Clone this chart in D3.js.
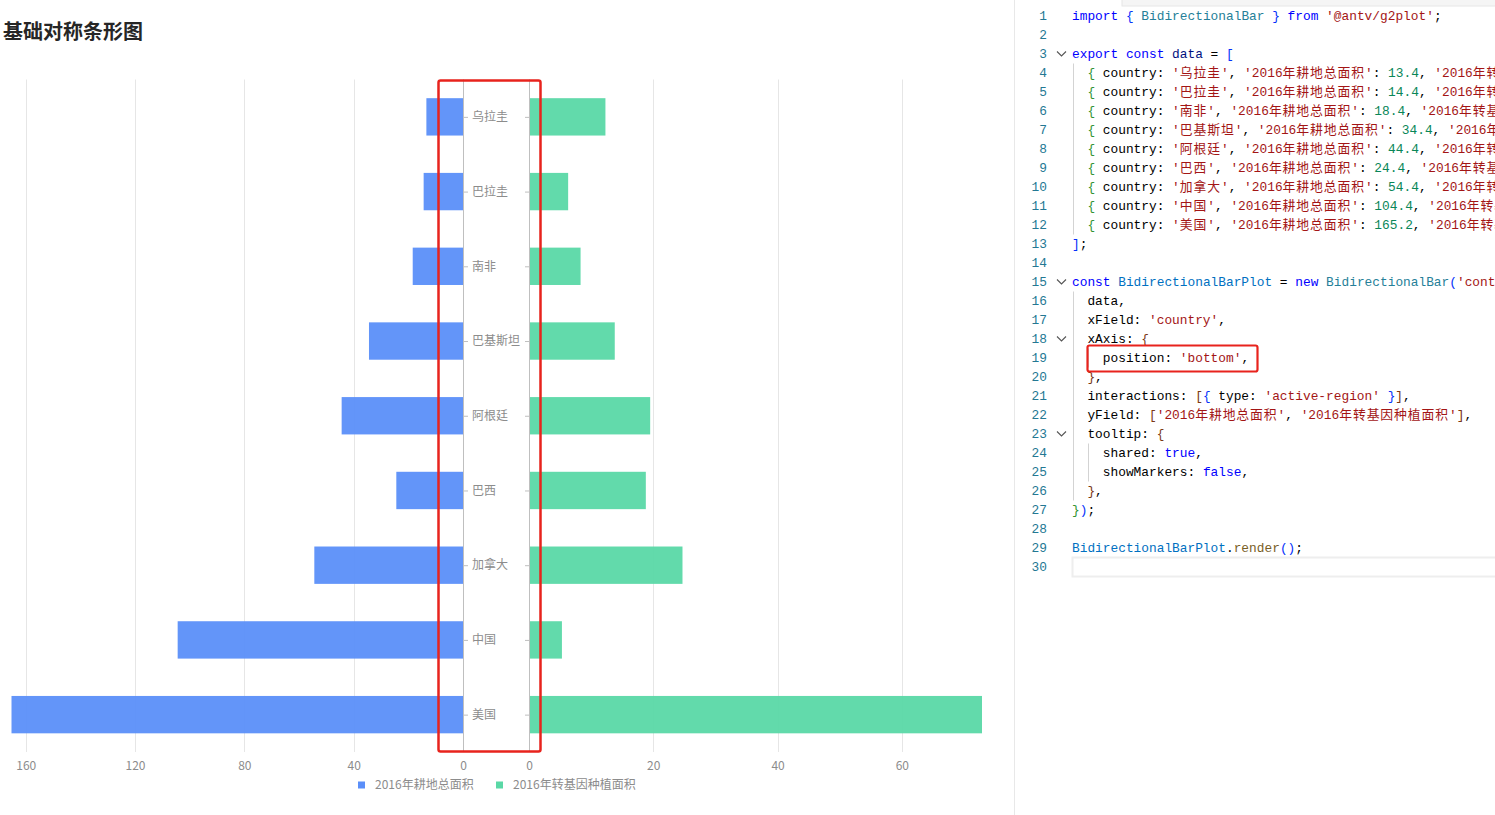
<!DOCTYPE html>
<html>
<head>
<meta charset="utf-8">
<script src="https://cdn.jsdelivr.net/npm/d3@7"></script>
<style>
  html, body { margin: 0; padding: 0; background: #fff; overflow: hidden; }
  svg { display: block; }
  .code text { font-family: "Liberation Mono", "DejaVu Sans Mono", "Noto Sans CJK SC", monospace; font-size: 12.83px; white-space: pre; }
  .code tspan.cjk { letter-spacing: 0.9px; }
</style>
</head>
<body>
<svg id="root" width="1495" height="815"></svg>
<script>
// ---------- chart data ----------
const countries = ['乌拉圭', '巴拉圭', '南非', '巴基斯坦', '阿根廷', '巴西', '加拿大', '中国', '美国'];
const totalArea = [13.4, 14.4, 18.4, 34.4, 44.4, 24.4, 54.4, 104.4, 165.2];
const gmArea = [12.3, 6.3, 8.3, 13.8, 19.5, 18.8, 24.7, 5.3, 72.9];
const seriesNames = ['2016年耕地总面积', '2016年转基因种植面积'];
const leftTicks = [0, 40, 80, 120, 160];
const rightTicks = [0, 20, 40, 60];
const chartTitle = '基础对称条形图';

// ---------- code panel text ----------
const codeLines = [
  [['k','import'],['p',' '],['b1','{'],['p',' '],['t','BidirectionalBar'],['p',' '],['b1','}'],['p',' '],['k','from'],['p',' '],['s',"'@antv/g2plot'"],['p',';']],
  [],
  [['k','export'],['p',' '],['k','const'],['p',' '],['v','data'],['p',' = '],['b1','[']],
  [['p','  '],['b2','{'],['p',' country: '],['s',"'乌拉圭'"],['p',', '],['s',"'2016年耕地总面积'"],['p',': '],['n','13.4'],['p',', '],['s',"'2016年转基因种植面积'"],['p',': '],['n','12.3'],['p',' '],['b2','}'],['p',',']],
  [['p','  '],['b2','{'],['p',' country: '],['s',"'巴拉圭'"],['p',', '],['s',"'2016年耕地总面积'"],['p',': '],['n','14.4'],['p',', '],['s',"'2016年转基因种植面积'"],['p',': '],['n','6.3'],['p',' '],['b2','}'],['p',',']],
  [['p','  '],['b2','{'],['p',' country: '],['s',"'南非'"],['p',', '],['s',"'2016年耕地总面积'"],['p',': '],['n','18.4'],['p',', '],['s',"'2016年转基因种植面积'"],['p',': '],['n','8.3'],['p',' '],['b2','}'],['p',',']],
  [['p','  '],['b2','{'],['p',' country: '],['s',"'巴基斯坦'"],['p',', '],['s',"'2016年耕地总面积'"],['p',': '],['n','34.4'],['p',', '],['s',"'2016年转基因种植面积'"],['p',': '],['n','13.8'],['p',' '],['b2','}'],['p',',']],
  [['p','  '],['b2','{'],['p',' country: '],['s',"'阿根廷'"],['p',', '],['s',"'2016年耕地总面积'"],['p',': '],['n','44.4'],['p',', '],['s',"'2016年转基因种植面积'"],['p',': '],['n','19.5'],['p',' '],['b2','}'],['p',',']],
  [['p','  '],['b2','{'],['p',' country: '],['s',"'巴西'"],['p',', '],['s',"'2016年耕地总面积'"],['p',': '],['n','24.4'],['p',', '],['s',"'2016年转基因种植面积'"],['p',': '],['n','18.8'],['p',' '],['b2','}'],['p',',']],
  [['p','  '],['b2','{'],['p',' country: '],['s',"'加拿大'"],['p',', '],['s',"'2016年耕地总面积'"],['p',': '],['n','54.4'],['p',', '],['s',"'2016年转基因种植面积'"],['p',': '],['n','24.7'],['p',' '],['b2','}'],['p',',']],
  [['p','  '],['b2','{'],['p',' country: '],['s',"'中国'"],['p',', '],['s',"'2016年耕地总面积'"],['p',': '],['n','104.4'],['p',', '],['s',"'2016年转基因种植面积'"],['p',': '],['n','5.3'],['p',' '],['b2','}'],['p',',']],
  [['p','  '],['b2','{'],['p',' country: '],['s',"'美国'"],['p',', '],['s',"'2016年耕地总面积'"],['p',': '],['n','165.2'],['p',', '],['s',"'2016年转基因种植面积'"],['p',': '],['n','72.9'],['p',' '],['b2','}'],['p',',']],
  [['b1',']'],['p',';']],
  [],
  [['k','const'],['p',' '],['c','BidirectionalBarPlot'],['p',' = '],['k','new'],['p',' '],['t','BidirectionalBar'],['b1','('],['s',"'container'"],['p',', '],['b2','{']],
  [['p','  data,']],
  [['p','  xField: '],['s',"'country'"],['p',',']],
  [['p','  xAxis: '],['b3','{']],
  [['p','    position: '],['s',"'bottom'"],['p',',']],
  [['p','  '],['b3','}'],['p',',']],
  [['p','  interactions: '],['b3','['],['b1','{'],['p',' type: '],['s',"'active-region'"],['p',' '],['b1','}'],['b3',']'],['p',',']],
  [['p','  yField: '],['b3','['],['s',"'2016年耕地总面积'"],['p',', '],['s',"'2016年转基因种植面积'"],['b3',']'],['p',',']],
  [['p','  tooltip: '],['b3','{']],
  [['p','    shared: '],['k','true'],['p',',']],
  [['p','    showMarkers: '],['k','false'],['p',',']],
  [['p','  '],['b3','}'],['p',',']],
  [['b2','}'],['b1',')'],['p',';']],
  [],
  [['c','BidirectionalBarPlot'],['p','.'],['f','render'],['b1','()'],['p',';']],
  []
];
const foldLines = [3, 15, 18, 23];

// ---------- drawing ----------
const svg = d3.select('#root');
const blue = '#5B8FF9', green = '#5AD8A6';
const gridColor = '#e6e6e6', axisColor = '#bfbfbf', labelColor = '#8c8c8c';
const fontUI = '"Noto Sans CJK SC", "Noto Sans", sans-serif';

const plotTop = 79.5, plotBottom = 752;
const y = d3.scaleBand().domain(countries).range([plotTop, plotBottom]).paddingInner(0.5).paddingOuter(0.25);
const xL = d3.scaleLinear().domain([0, d3.max(totalArea)]).range([463, 11.5]);
const xR = d3.scaleLinear().domain([0, d3.max(gmArea)]).range([529, 982]);

// title
svg.append('text').attr('x', 3).attr('y', 39).text(chartTitle)
  .attr('font-family', fontUI).attr('font-size', 20).attr('font-weight', 'bold').attr('fill', '#262626');

// grid lines
const g = svg.append('g');
g.selectAll('.gl').data(leftTicks.filter(d => d > 0)).join('line')
  .attr('x1', d => Math.round(xL(d)) + 0.5).attr('x2', d => Math.round(xL(d)) + 0.5)
  .attr('y1', plotTop).attr('y2', plotBottom).attr('stroke', gridColor);
g.selectAll('.gr').data(rightTicks.filter(d => d > 0)).join('line')
  .attr('x1', d => Math.round(xR(d)) + 0.5).attr('x2', d => Math.round(xR(d)) + 0.5)
  .attr('y1', plotTop).attr('y2', plotBottom).attr('stroke', gridColor);

// bars
const rows = countries.map((c, i) => ({ c, a: totalArea[i], b: gmArea[i] }));
g.selectAll('.barL').data(rows).join('rect')
  .attr('x', d => xL(d.a)).attr('width', d => xL(0) - xL(d.a))
  .attr('y', d => y(d.c)).attr('height', y.bandwidth())
  .attr('fill', blue).attr('fill-opacity', 0.95);
g.selectAll('.barR').data(rows).join('rect')
  .attr('x', xR(0)).attr('width', d => xR(d.b) - xR(0))
  .attr('y', d => y(d.c)).attr('height', y.bandwidth())
  .attr('fill', green).attr('fill-opacity', 0.95);

// axis lines at zero
[xL(0), xR(0)].forEach(x => {
  g.append('line').attr('x1', x + 0.5).attr('x2', x + 0.5).attr('y1', plotTop).attr('y2', plotBottom)
    .attr('stroke', axisColor);
});
// category ticks & labels
g.selectAll('.tkL').data(countries).join('line')
  .attr('x1', xL(0) + 1).attr('x2', xL(0) + 5)
  .attr('y1', d => y(d) + y.bandwidth() / 2 + 0.5).attr('y2', d => y(d) + y.bandwidth() / 2 + 0.5)
  .attr('stroke', axisColor);
g.selectAll('.tkR').data(countries).join('line')
  .attr('x1', xR(0) - 4).attr('x2', xR(0))
  .attr('y1', d => y(d) + y.bandwidth() / 2 + 0.5).attr('y2', d => y(d) + y.bandwidth() / 2 + 0.5)
  .attr('stroke', axisColor);
g.selectAll('.cl').data(countries).join('text')
  .attr('x', xL(0) + 9).attr('y', d => y(d) + y.bandwidth() / 2)
  .attr('dy', '0.35em').text(d => d)
  .attr('font-family', fontUI).attr('font-size', 12).attr('fill', labelColor);

// value axes (bottom)
const axL = d3.axisBottom(xL).tickValues(leftTicks).tickSize(0).tickPadding(0).tickFormat(d3.format('d'));
const axR = d3.axisBottom(xR).tickValues(rightTicks).tickSize(0).tickPadding(0).tickFormat(d3.format('d'));
[axL, axR].forEach(ax => {
  const a = svg.append('g').attr('transform', 'translate(0,761)').call(ax);
  a.select('.domain').remove();
  a.selectAll('text').attr('font-family', fontUI).attr('font-size', 12).attr('fill', labelColor).attr('dy', '0.71em');
});

// legend
const legend = svg.append('g');
const legX = [358, 496];
seriesNames.forEach((name, i) => {
  legend.append('rect').attr('x', legX[i]).attr('y', 781.5).attr('width', 7).attr('height', 7)
    .attr('fill', i === 0 ? blue : green);
  legend.append('text').attr('x', legX[i] + 17).attr('y', 785).attr('dy', '0.35em').text(name)
    .attr('font-family', fontUI).attr('font-size', 12).attr('fill', labelColor);
});

// red highlight box in chart
svg.append('rect').attr('x', 438.5).attr('y', 80.5).attr('width', 102).attr('height', 671)
  .attr('rx', 2).attr('fill', 'none').attr('stroke', '#e8231d').attr('stroke-width', 2.5);

// divider
svg.append('line').attr('x1', 1014.5).attr('x2', 1014.5).attr('y1', 0).attr('y2', 815).attr('stroke', '#e8e8e8');

// ---------- code panel ----------
const code = svg.append('g').attr('class', 'code');
code.append('rect').attr('x', 1122).attr('y', -2).attr('width', 380).attr('height', 8)
  .attr('fill', '#f5f5f5').attr('stroke', '#e6e6e6');
const lh = 19, firstY = 16, codeX = 1072;
const lineY = n => firstY + (n - 1) * lh;

// current line box (line 30)
code.append('rect').attr('x', codeX + 0.5).attr('y', lineY(30) - 9.5).attr('width', 440).attr('height', 19)
  .attr('fill', 'none').attr('stroke', '#eeeeee').attr('stroke-width', 2);

// indent guides
const guides = [[1073.5, 4, 12], [1073.5, 16, 26], [1088.5, 19, 19], [1088.5, 24, 25]];
guides.forEach(([x, a, b]) => {
  code.append('line').attr('x1', x).attr('x2', x).attr('y1', lineY(a) - 9.5).attr('y2', lineY(b) + 9.5)
    .attr('stroke', '#d3d3d3');
});

// line numbers
code.selectAll('.ln').data(codeLines).join('text')
  .attr('x', 1047).attr('y', (d, i) => lineY(i + 1)).attr('dy', '0.35em')
  .attr('text-anchor', 'end').attr('fill', '#237893').text((d, i) => i + 1);

// fold chevrons
foldLines.forEach(n => {
  const cy = lineY(n);
  code.append('path').attr('d', `M1057,${cy - 2.5} L1061.5,${cy + 2} L1066,${cy - 2.5}`)
    .attr('fill', 'none').attr('stroke', '#555').attr('stroke-width', 1.1);
});

const tokColor = { k: '#0000ff', t: '#267f99', c: '#0070c1', v: '#001080', s: '#a31515', n: '#098658',
  p: '#000000', f: '#795e26', b1: '#0431fa', b2: '#319331', b3: '#7b3814' };
const cjkRe = /([\u3000-\u9fff\uff00-\uffef]+)/;
code.selectAll('.cl').data(codeLines).join('text')
  .attr('x', codeX).attr('y', (d, i) => lineY(i + 1)).attr('dy', '0.35em')
  .each(function (toks) {
    const t = d3.select(this);
    toks.forEach(([k, s]) => {
      s.split(cjkRe).filter(p => p.length).forEach(part => {
        t.append('tspan').attr('fill', tokColor[k])
          .attr('class', cjkRe.test(part) ? 'cjk' : null).text(part);
      });
    });
  });

// red highlight on line 19
svg.append('rect').attr('x', 1087.5).attr('y', 345.5).attr('width', 170).attr('height', 26)
  .attr('rx', 2).attr('fill', 'none').attr('stroke', '#e8231d').attr('stroke-width', 2.2);
</script>
</body>
</html>
